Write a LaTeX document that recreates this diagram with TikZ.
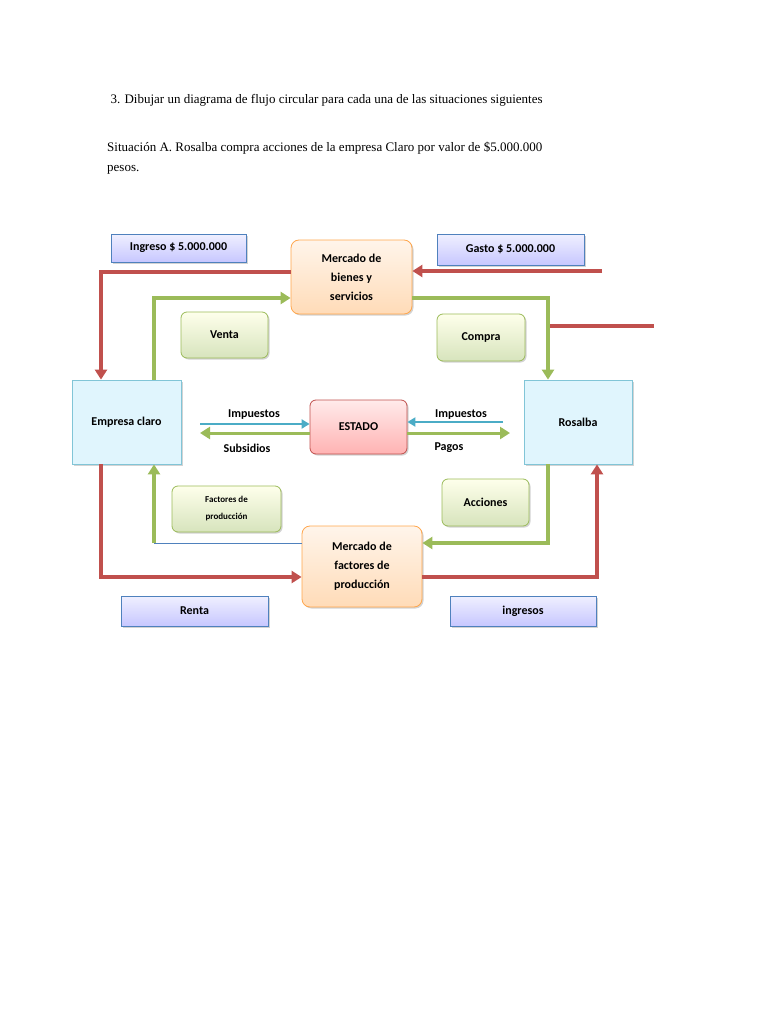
\documentclass[tikz,border=0pt]{standalone}
\usepackage{fontspec}
\setmainfont{Liberation Serif}
\newfontfamily\calfont{Carlito}
\usetikzlibrary{arrows.meta,shadows}
\definecolor{rd}{HTML}{C0504D}
\definecolor{gr}{HTML}{9BBB59}
\definecolor{bl}{HTML}{4BACC6}
\definecolor{blb}{HTML}{4F81BD}
\tikzset{
 base/.style={draw, line width=0.8pt, font=\calfont\bfseries\fontsize{12}{19}\selectfont, align=center, inner sep=0pt, drop shadow={shadow xshift=1.5pt,shadow yshift=-1.5pt,opacity=0.35}},
 bluebox/.style={base, draw=blb, top color=blue!6, bottom color=blue!22},
 cyanbox/.style={base, draw=bl!70, fill=cyan!12},
 orbox/.style={base, rounded corners=8pt, draw=orange!70, top color=orange!8, bottom color=orange!28},
 grbox/.style={base, rounded corners=6pt, draw=gr, top color=green!5!yellow!8, bottom color=gr!40},
 stbox/.style={base, rounded corners=6pt, draw=rd, top color=red!8, bottom color=red!30},
 rarr/.style={draw=rd, line width=3.5pt, -{Triangle[length=10pt,width=12pt]}},
 garr/.style={draw=gr, line width=3.5pt, -{Triangle[length=10pt,width=12pt]}},
 barr/.style={draw=bl, line width=2.5pt, -{Triangle[length=8pt,width=9pt]}},
 lbl/.style={font=\calfont\bfseries\fontsize{12}{14}\selectfont},
}
\begin{document}
\begin{tikzpicture}[x=1pt,y=-1pt]
\useasboundingbox (0,0) rectangle (768,1024);
\node[anchor=west,font=\fontsize{13}{16}\selectfont] (t1) at (107,100) {3. Dibujar un diagrama de flujo circular para cada una de las situaciones siguientes};
\node[anchor=north west,align=left,inner sep=0pt,font=\fontsize{13}{20}\selectfont] (t2) at (107,142) {Situación A. Rosalba compra acciones de la empresa Claro por valor de \$5.000.000\\pesos.};

\node[bluebox,minimum width=135pt,minimum height=28pt] (ing) at (178.5,248) {Ingreso \$ 5.000.000};
\node[bluebox,minimum width=147pt,minimum height=31pt] (gas) at (510.5,249.5) {Gasto \$ 5.000.000};
\node[orbox,minimum width=121pt,minimum height=74pt] (mb) at (351.5,277) {Mercado de\\bienes y\\servicios};
\node[grbox,minimum width=87pt,minimum height=46pt] (ven) at (224.5,335) {Venta};
\node[grbox,minimum width=88pt,minimum height=47pt] (com) at (481,337.5) {Compra};
\node[cyanbox,minimum width=109pt,minimum height=84pt] (emp) at (126.5,422) {Empresa claro};
\node[cyanbox,minimum width=108pt,minimum height=84pt] (ros) at (578,422) {Rosalba};
\node[stbox,minimum width=97pt,minimum height=54pt] (est) at (358.5,427) {ESTADO};
\node[grbox,minimum width=109pt,minimum height=46pt,font=\calfont\bfseries\fontsize{9}{17}\selectfont] (fac) at (226.5,509) {Factores de\\producción};
\node[grbox,minimum width=87pt,minimum height=47pt] (acc) at (485.5,502.5) {Acciones};
\node[orbox,minimum width=120pt,minimum height=81pt] (mf) at (362,566.5) {Mercado de\\factores de\\producción};
\node[bluebox,minimum width=147pt,minimum height=30pt] (ren) at (194.5,611) {Renta};
\node[bluebox,minimum width=146pt,minimum height=30pt] (ingr) at (523,611) {ingresos};

\coordinate (rs) at (602,271);
\coordinate (r2a) at (550,326);
\coordinate (r2b) at (654,326);
\draw[rarr] (mb.west |- 0,272) -| (emp.north -| 101,0);
\draw[rarr] (rs) -- (mb.east |- rs);
\draw[draw=rd,line width=3.5pt] (r2a) -- (r2b);
\draw[garr] (emp.north -| 154,0) |- (mb.west |- 0,298);
\draw[garr] (mb.east |- 0,298) -| (ros.north -| 548,0);

\coordinate (i1) at (200,424); \coordinate (s1) at (200,433);
\coordinate (i2) at (503,422); \coordinate (p2) at (510,433);
\draw[barr] (i1) -- (est.west |- i1);
\draw[garr,line width=3pt] (est.west |- s1) -- (s1);
\draw[barr] (i2) -- (est.east |- i2);
\draw[garr,line width=3pt] (est.east |- p2) -- (p2);
\node[lbl] (l1) at (254,415) {Impuestos};
\node[lbl] (l2) at (247,448) {Subsidios};
\node[lbl] (l3) at (461,415) {Impuestos};
\node[lbl] (l4) at (449,448) {Pagos};

\draw[rarr] (emp.south -| 101,0) |- (mf.west |- 0,577);
\draw[rarr] (mf.east |- 0,577) -| (ros.south -| 597,0);
\draw[garr] (ros.south -| 548,0) |- (mf.east |- 0,543);
\coordinate (fc) at (154,543);
\draw[draw=blb,line width=0.8pt] (fc) -- (mf.west |- fc);
\draw[garr] (fc) -- (emp.south -| fc);
\end{tikzpicture}
\end{document}
